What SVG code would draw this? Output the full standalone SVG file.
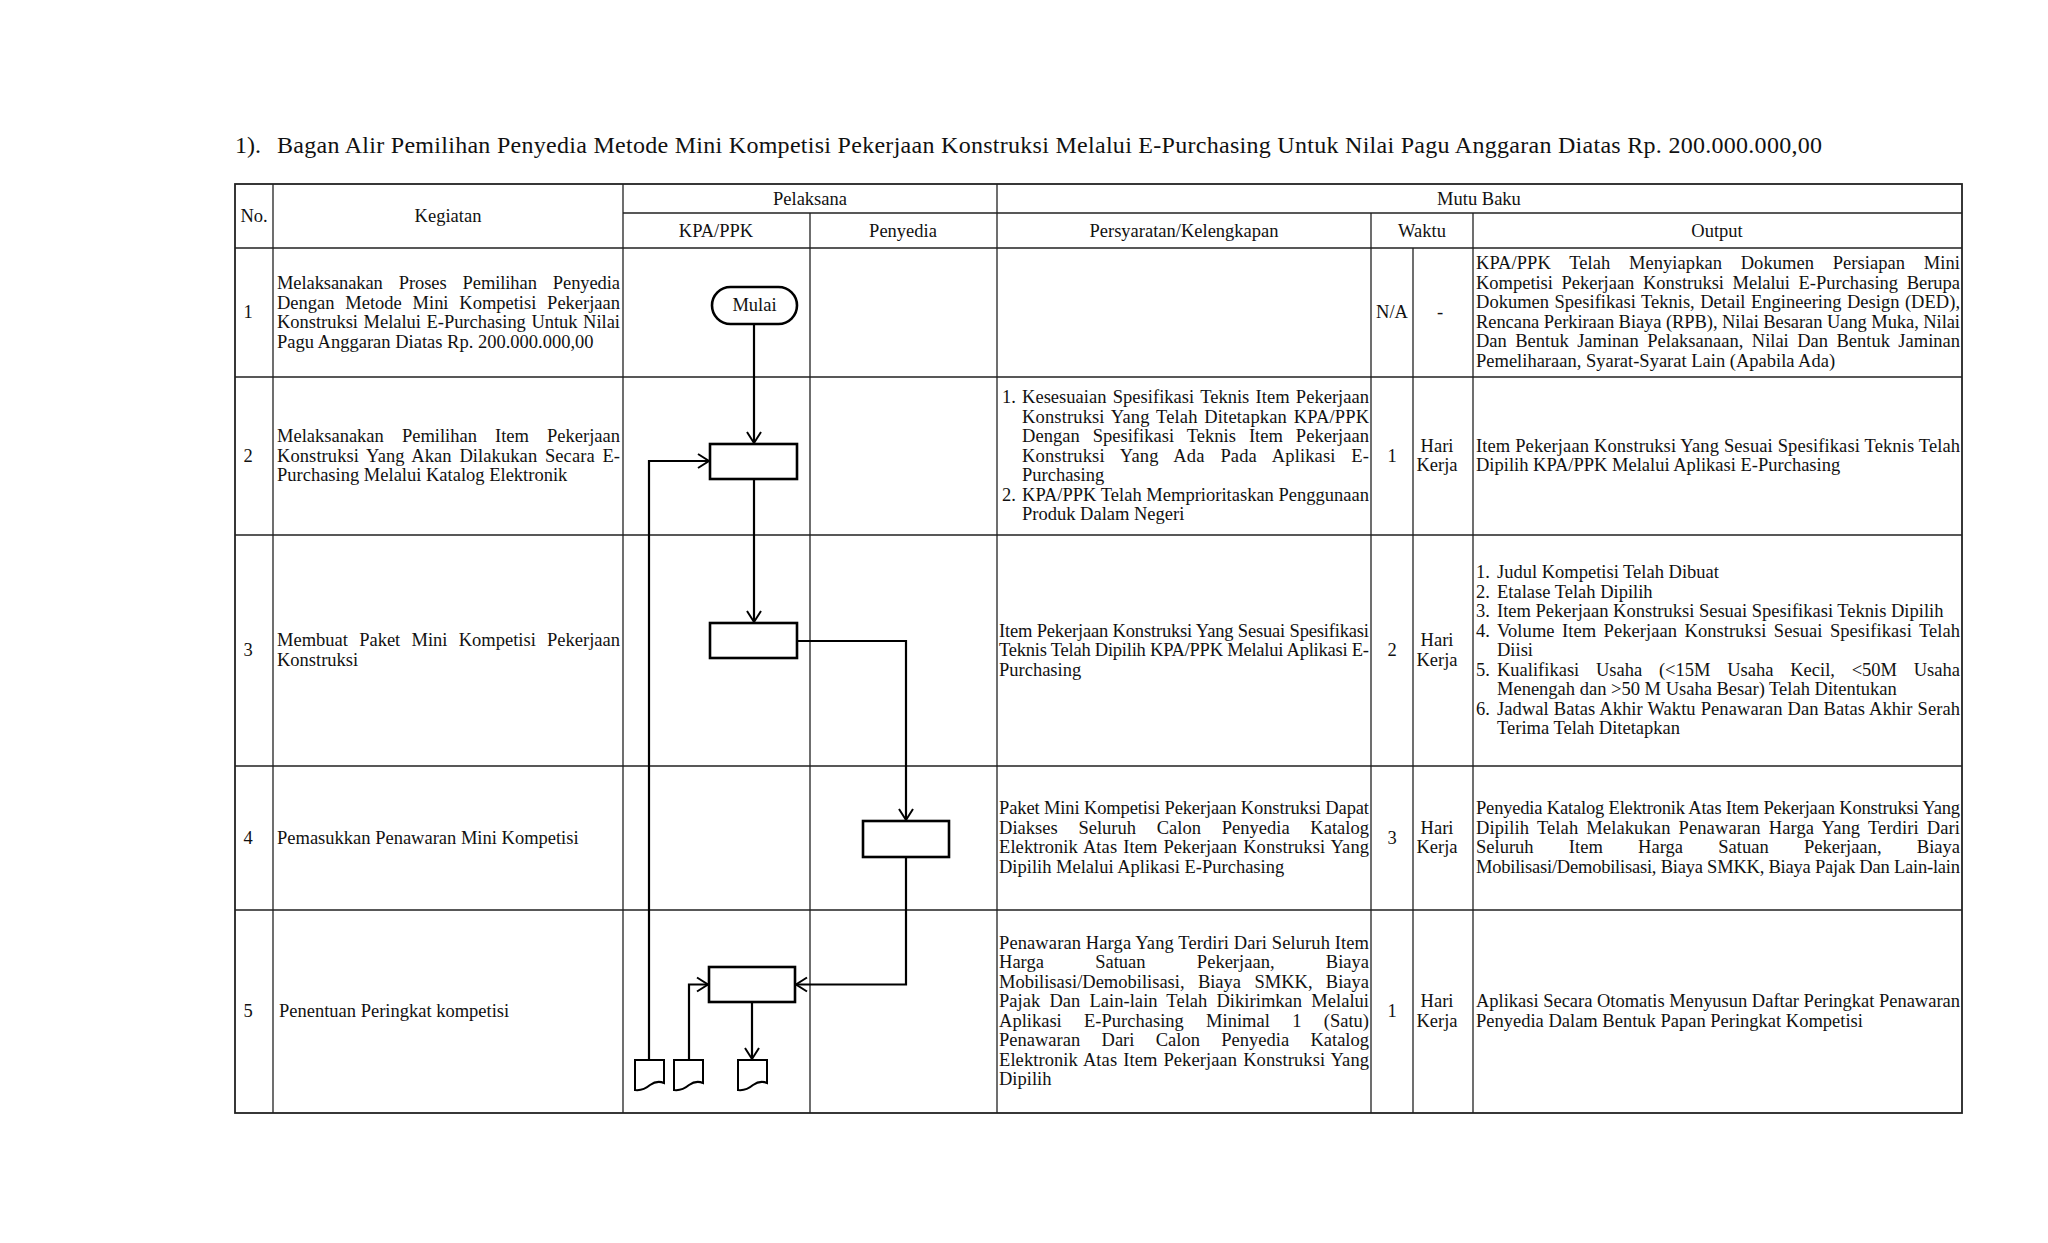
<svg xmlns="http://www.w3.org/2000/svg" width="2048" height="1243" viewBox="0 0 2048 1243">
<style>
text{font-family:"Liberation Serif","Times New Roman",serif;font-size:18.5px;fill:#111}
.m{text-anchor:middle}
.ti{font-size:24px}
.tb{stroke:#222;stroke-width:1.3;fill:none}
.tbo{stroke:#222;stroke-width:1.8;fill:none}
.conn{stroke:#000;stroke-width:2.2;fill:none}
.box{stroke:#000;stroke-width:2.6;fill:#fff}
.doc{stroke:#000;stroke-width:2;fill:#fff}
</style>
<defs>
<marker id="arr" markerUnits="userSpaceOnUse" markerWidth="14" markerHeight="16" refX="11" refY="7" orient="auto" overflow="visible">
<path d="M0,0 L11,7 L0,14" fill="none" stroke="#000" stroke-width="2"/>
</marker>
</defs>
<rect width="2048" height="1243" fill="#fff"/>

<g id="title">
<text class="ti" x="235" y="153">1).</text>
<text class="ti" x="277" y="153" textLength="1545" lengthAdjust="spacing">Bagan Alir Pemilihan Penyedia Metode Mini Kompetisi Pekerjaan Konstruksi Melalui E-Purchasing Untuk Nilai Pagu Anggaran Diatas Rp. 200.000.000,00</text>
</g>

<g id="table-grid">
<rect class="tbo" x="235" y="184" width="1727" height="929"/>
<path class="tb" d="M273,184V1113 M623,184V1113 M810,213V1113 M997,184V1113 M1371,213V1113 M1413,248V1113 M1473,213V1113"/>
<path class="tb" d="M623,213H1962 M235,248H1962 M235,377H1962 M235,535H1962 M235,766H1962 M235,910H1962"/>
</g>

<g id="headers">
<text class="m" x="254" y="222">No.</text>
<text class="m" x="448" y="222">Kegiatan</text>
<text class="m" x="810" y="205">Pelaksana</text>
<text class="m" x="1479" y="205">Mutu Baku</text>
<text class="m" x="716" y="236.5">KPA/PPK</text>
<text class="m" x="903" y="236.5">Penyedia</text>
<text class="m" x="1184" y="236.5">Persyaratan/Kelengkapan</text>
<text class="m" x="1422" y="236.5">Waktu</text>
<text class="m" x="1717" y="236.5">Output</text>
</g>

<g id="row1">
<text class="m" x="248" y="318">1</text>
<text x="277" y="289" textLength="343" lengthAdjust="spacing" style="word-spacing:11.5px">Melaksanakan Proses Pemilihan Penyedia</text>
<text x="277" y="308.5" textLength="343" lengthAdjust="spacing" style="word-spacing:6.2px">Dengan Metode Mini Kompetisi Pekerjaan</text>
<text x="277" y="328" textLength="343" lengthAdjust="spacing" style="word-spacing:1px">Konstruksi Melalui E-Purchasing Untuk Nilai</text>
<text x="277" y="347.5">Pagu Anggaran Diatas Rp. 200.000.000,00</text>
<text class="m" x="1392" y="318">N/A</text>
<text class="m" x="1440" y="318">-</text>
<text x="1476" y="269.25" textLength="484" lengthAdjust="spacing" style="word-spacing:14px">KPA/PPK Telah Menyiapkan Dokumen Persiapan Mini</text>
<text x="1476" y="288.75" textLength="484" lengthAdjust="spacing" style="word-spacing:4px">Kompetisi Pekerjaan Konstruksi Melalui E-Purchasing Berupa</text>
<text x="1476" y="308.25" textLength="484" lengthAdjust="spacing" style="word-spacing:0.8px">Dokumen Spesifikasi Teknis, Detail Engineering Design (DED),</text>
<text x="1476" y="327.75" textLength="484" lengthAdjust="spacing">Rencana Perkiraan Biaya (RPB), Nilai Besaran Uang Muka, Nilai</text>
<text x="1476" y="347.25" textLength="484" lengthAdjust="spacing" style="word-spacing:3.8px">Dan Bentuk Jaminan Pelaksanaan, Nilai Dan Bentuk Jaminan</text>
<text x="1476" y="366.75">Pemeliharaan, Syarat-Syarat Lain (Apabila Ada)</text>
</g>

<g id="row2">
<text class="m" x="248" y="461.5">2</text>
<text x="277" y="442" textLength="343" lengthAdjust="spacing" style="word-spacing:13.5px">Melaksanakan Pemilihan Item Pekerjaan</text>
<text x="277" y="461.5" textLength="343" lengthAdjust="spacing" style="word-spacing:3px">Konstruksi Yang Akan Dilakukan Secara E-</text>
<text x="277" y="481">Purchasing Melalui Katalog Elektronik</text>
<text x="1002" y="403">1.</text>
<text x="1022" y="403" textLength="347" lengthAdjust="spacing" style="word-spacing:1.6px">Kesesuaian Spesifikasi Teknis Item Pekerjaan</text>
<text x="1022" y="422.5" textLength="347" lengthAdjust="spacing" style="word-spacing:2px">Konstruksi Yang Telah Ditetapkan KPA/PPK</text>
<text x="1022" y="442" textLength="347" lengthAdjust="spacing" style="word-spacing:8.3px">Dengan Spesifikasi Teknis Item Pekerjaan</text>
<text x="1022" y="461.5" textLength="347" lengthAdjust="spacing" style="word-spacing:11px">Konstruksi Yang Ada Pada Aplikasi E-</text>
<text x="1022" y="481">Purchasing</text>
<text x="1002" y="500.5">2.</text>
<text x="1022" y="500.5" textLength="347" lengthAdjust="spacing">KPA/PPK Telah Memprioritaskan Penggunaan</text>
<text x="1022" y="520">Produk Dalam Negeri</text>
<text class="m" x="1392" y="461.5">1</text>
<text class="m" x="1437" y="451.75">Hari</text>
<text class="m" x="1437" y="471.25">Kerja</text>
<text x="1476" y="451.75" textLength="484" lengthAdjust="spacing" style="word-spacing:0.2px">Item Pekerjaan Konstruksi Yang Sesuai Spesifikasi Teknis Telah</text>
<text x="1476" y="471.25">Dipilih KPA/PPK Melalui Aplikasi E-Purchasing</text>
</g>

<g id="row3">
<text class="m" x="248" y="656">3</text>
<text x="277" y="646.25" textLength="343" lengthAdjust="spacing" style="word-spacing:6.6px">Membuat Paket Mini Kompetisi Pekerjaan</text>
<text x="277" y="665.75">Konstruksi</text>
<text x="999" y="636.5" textLength="370" lengthAdjust="spacing">Item Pekerjaan Konstruksi Yang Sesuai Spesifikasi</text>
<text x="999" y="656" textLength="370" lengthAdjust="spacing">Teknis Telah Dipilih KPA/PPK Melalui Aplikasi E-</text>
<text x="999" y="675.5">Purchasing</text>
<text class="m" x="1392" y="656">2</text>
<text class="m" x="1437" y="646.25">Hari</text>
<text class="m" x="1437" y="665.75">Kerja</text>
<text x="1476" y="578">1.</text>
<text x="1497" y="578">Judul Kompetisi Telah Dibuat</text>
<text x="1476" y="597.5">2.</text>
<text x="1497" y="597.5">Etalase Telah Dipilih</text>
<text x="1476" y="617">3.</text>
<text x="1497" y="617">Item Pekerjaan Konstruksi Sesuai Spesifikasi Teknis Dipilih</text>
<text x="1476" y="636.5">4.</text>
<text x="1497" y="636.5" textLength="463" lengthAdjust="spacing" style="word-spacing:2.7px">Volume Item Pekerjaan Konstruksi Sesuai Spesifikasi Telah</text>
<text x="1497" y="656">Diisi</text>
<text x="1476" y="675.5">5.</text>
<text x="1497" y="675.5" textLength="463" lengthAdjust="spacing" style="word-spacing:12.1px">Kualifikasi Usaha (&lt;15M Usaha Kecil, &lt;50M Usaha</text>
<text x="1497" y="695">Menengah dan &gt;50 M Usaha Besar) Telah Ditentukan</text>
<text x="1476" y="714.5">6.</text>
<text x="1497" y="714.5" textLength="463" lengthAdjust="spacing" style="word-spacing:0.3px">Jadwal Batas Akhir Waktu Penawaran Dan Batas Akhir Serah</text>
<text x="1497" y="734">Terima Telah Ditetapkan</text>
</g>

<g id="row4">
<text class="m" x="248" y="843.5">4</text>
<text x="277" y="843.5">Pemasukkan Penawaran Mini Kompetisi</text>
<text x="999" y="814.25" textLength="370" lengthAdjust="spacing">Paket Mini Kompetisi Pekerjaan Konstruksi Dapat</text>
<text x="999" y="833.75" textLength="370" lengthAdjust="spacing" style="word-spacing:16px">Diakses Seluruh Calon Penyedia Katalog</text>
<text x="999" y="853.25" textLength="370" lengthAdjust="spacing" style="word-spacing:1.3px">Elektronik Atas Item Pekerjaan Konstruksi Yang</text>
<text x="999" y="872.75">Dipilih Melalui Aplikasi E-Purchasing</text>
<text class="m" x="1392" y="843.5">3</text>
<text class="m" x="1437" y="833.75">Hari</text>
<text class="m" x="1437" y="853.25">Kerja</text>
<text x="1476" y="814.25" textLength="484" lengthAdjust="spacing">Penyedia Katalog Elektronik Atas Item Pekerjaan Konstruksi Yang</text>
<text x="1476" y="833.75" textLength="484" lengthAdjust="spacing" style="word-spacing:3.3px">Dipilih Telah Melakukan Penawaran Harga Yang Terdiri Dari</text>
<text x="1476" y="853.25" textLength="484" lengthAdjust="spacing" style="word-spacing:30.6px">Seluruh Item Harga Satuan Pekerjaan, Biaya</text>
<text x="1476" y="872.75" textLength="484" lengthAdjust="spacing">Mobilisasi/Demobilisasi, Biaya SMKK, Biaya Pajak Dan Lain-lain</text>
</g>

<g id="row5">
<text class="m" x="248" y="1017">5</text>
<text x="279" y="1017">Penentuan Peringkat kompetisi</text>
<text x="999" y="948.75" textLength="370" lengthAdjust="spacing">Penawaran Harga Yang Terdiri Dari Seluruh Item</text>
<text x="999" y="968.25" textLength="370" lengthAdjust="spacing" style="word-spacing:46.6px">Harga Satuan Pekerjaan, Biaya</text>
<text x="999" y="987.75" textLength="370" lengthAdjust="spacing" style="word-spacing:8.7px">Mobilisasi/Demobilisasi, Biaya SMKK, Biaya</text>
<text x="999" y="1007.25" textLength="370" lengthAdjust="spacing" style="word-spacing:4.4px">Pajak Dan Lain-lain Telah Dikirimkan Melalui</text>
<text x="999" y="1026.75" textLength="370" lengthAdjust="spacing" style="word-spacing:17.7px">Aplikasi E-Purchasing Minimal 1 (Satu)</text>
<text x="999" y="1046.25" textLength="370" lengthAdjust="spacing" style="word-spacing:16.7px">Penawaran Dari Calon Penyedia Katalog</text>
<text x="999" y="1065.75" textLength="370" lengthAdjust="spacing" style="word-spacing:1.3px">Elektronik Atas Item Pekerjaan Konstruksi Yang</text>
<text x="999" y="1085.25">Dipilih</text>
<text class="m" x="1392" y="1017">1</text>
<text class="m" x="1437" y="1007.25">Hari</text>
<text class="m" x="1437" y="1026.75">Kerja</text>
<text x="1476" y="1007.25" textLength="484" lengthAdjust="spacing">Aplikasi Secara Otomatis Menyusun Daftar Peringkat Penawaran</text>
<text x="1476" y="1026.75">Penyedia Dalam Bentuk Papan Peringkat Kompetisi</text>
</g>

<g id="connectors">
<path class="conn" d="M754,324V443" marker-end="url(#arr)"/>
<path class="conn" d="M754,479V622" marker-end="url(#arr)"/>
<path class="conn" d="M797,641H906V820" marker-end="url(#arr)"/>
<path class="conn" d="M906,857V984.5H796" marker-end="url(#arr)"/>
<path class="conn" d="M649,1060V461H709" marker-end="url(#arr)"/>
<path class="conn" d="M689,1060V984.5H708" marker-end="url(#arr)"/>
<path class="conn" d="M752,1002V1059" marker-end="url(#arr)"/>
</g>

<g id="n-mulai">
<rect class="box" x="712" y="287" width="85" height="37" rx="18.5"/>
<text class="m" x="754.5" y="311">Mulai</text>
</g>
<g id="n-box2"><rect class="box" x="710" y="444" width="87" height="35"/></g>
<g id="n-box3"><rect class="box" x="710" y="623" width="87" height="35"/></g>
<g id="n-box4"><rect class="box" x="863" y="821" width="86" height="36"/></g>
<g id="n-box5"><rect class="box" x="709" y="967" width="86" height="35"/></g>
<g id="n-doc1"><path class="doc" d="M635,1060H664V1083Q657,1080 650,1085Q643,1091 635,1090Z"/></g>
<g id="n-doc2"><path class="doc" d="M674,1060H703V1083Q696,1080 689,1085Q682,1091 674,1090Z"/></g>
<g id="n-doc3"><path class="doc" d="M738,1060H767V1083Q760,1080 753,1085Q746,1091 738,1090Z"/></g>
</svg>
